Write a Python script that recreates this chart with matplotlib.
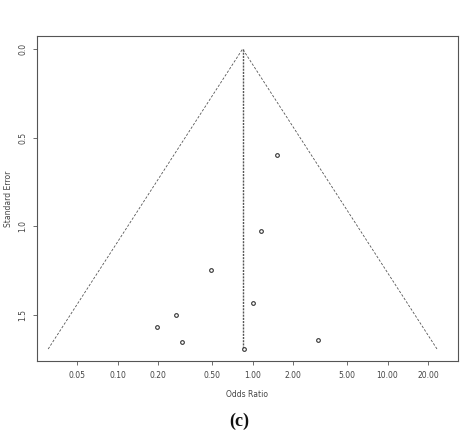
import numpy as np
import matplotlib
matplotlib.use("Agg")
import matplotlib.pyplot as plt
from matplotlib.ticker import FixedLocator, NullLocator

# study estimates
odds_ratio = [1.52, 1.15, 1.01, 3.05, 0.87, 0.49, 0.27, 0.195, 0.30]
std_error = [0.60, 1.025, 1.434, 1.64, 1.692, 1.245, 1.498, 1.566, 1.651]
pooled_or = 0.844
se_max = 1.692

x_ticks = [0.05, 0.10, 0.20, 0.50, 1.00, 2.00, 5.00, 10.00, 20.00]
x_tick_labels = ["0.05", "0.10", "0.20", "0.50", "1.00", "2.00", "5.00", "10.00", "20.00"]
y_ticks = [0.0, 0.5, 1.0, 1.5]
y_tick_labels = ["0.0", "0.5", "1.0", "1.5"]

grey = "#555555"

fig = plt.figure(figsize=(4.74, 4.34), dpi=100)
ax = fig.add_axes([0.078, 0.168, 0.888, 0.749])

# funnel: pseudo 95% limits around the pooled estimate
lo = np.exp(np.log(pooled_or) - 1.96 * se_max)
hi = np.exp(np.log(pooled_or) + 1.96 * se_max)
ax.plot([lo, pooled_or, hi], [se_max, 0.0, se_max], color=grey,
        linestyle=(0, (3, 2)), linewidth=0.6)
ax.plot([pooled_or, pooled_or], [0.0, se_max], color=grey,
        linestyle=(0, (1.5, 0.8)), linewidth=1.0)

ax.scatter(odds_ratio, std_error, s=7, facecolors="white",
           edgecolors="#333333", linewidths=0.8, zorder=3)

ax.set_xscale("log")
ax.set_xlim(0.0253, 33.2)
ax.set_ylim(1.76, -0.073)

ax.xaxis.set_major_locator(FixedLocator(x_ticks))
ax.xaxis.set_minor_locator(NullLocator())
ax.set_xticklabels(x_tick_labels)
ax.set_yticks(y_ticks)
ax.set_yticklabels(y_tick_labels, rotation=90, va="center")

ax.tick_params(axis="both", length=3, width=0.6, color=grey,
               labelsize=5.5, labelcolor="#444444", pad=4)
for s in ax.spines.values():
    s.set_color(grey)
    s.set_linewidth(0.8)

ax.set_xlabel("Odds Ratio", fontsize=5.5, color="#444444", labelpad=7)
ax.set_ylabel("Standard Error", fontsize=5.5, color="#444444", labelpad=4)

fig.text(0.504, 0.01, "(c)", ha="center", va="bottom", fontsize=13,
         fontweight="bold", family="Liberation Serif", color="#111111")

fig.savefig("out.png", dpi=100)
